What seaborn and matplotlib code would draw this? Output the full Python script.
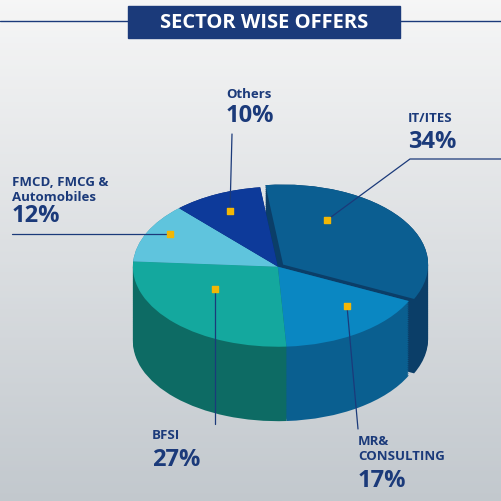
import numpy as np
import matplotlib.pyplot as plt
import seaborn as sns

sectors = ['IT/ITES', 'MR&\nCONSULTING', 'BFSI', 'FMCD, FMCG &\nAutomobiles', 'Others']
shares = [34, 17, 27, 12, 10]
top_colors = ['#0b5e91', '#0a87c2', '#14a89e', '#5fc4dd', '#0d3a9a']
side_colors = ['#0b3e68', '#0a5f90', '#0d6b64', '#3e8fa6', '#0a2a70']
explode = [0.045, 0, 0, 0, 0]

sns.set_style('white')
plt.rcParams['font.family'] = ['Open Sans', 'DejaVu Sans']
fig = plt.figure(figsize=(5.02, 5.02), dpi=100)

# background
bg = fig.add_axes([0, 0, 1, 1])
grad = np.linspace(0, 1, 256).reshape(-1, 1)
bg.imshow(grad, cmap=sns.light_palette('#9aa4ad', as_cmap=True), aspect='auto',
          extent=[0, 502, 502, 0], alpha=0.6)
bg.set_xlim(0, 502)
bg.set_ylim(502, 0)
bg.axis('off')

# pie
ax = fig.add_axes([0.207, 0.116, 0.693, 0.542])
depths = np.linspace(0.93, 0.0, 40)
for d in depths:
    ax.pie(shares, colors=side_colors, startangle=97, counterclock=False, explode=explode,
           center=(0, -d), radius=1, wedgeprops=dict(linewidth=0))
ax.pie(shares, colors=top_colors, startangle=97, counterclock=False, explode=explode,
       center=(0, 0), radius=1, wedgeprops=dict(linewidth=0))
ax.set_aspect('auto')
ax.set_xlim(-1.2, 1.2)
ax.set_ylim(-2.2, 1.2)
ax.axis('off')

# overlay for title and labels
ov = fig.add_axes([0, 0, 1, 1])
ov.set_xlim(0, 502)
ov.set_ylim(502, 0)
ov.axis('off')
navy = '#1b3a7a'
ov.plot([0, 130], [22, 22], color=navy, lw=1)
ov.plot([400, 502], [22, 22], color=navy, lw=1)
ov.add_patch(plt.Rectangle((128, 7), 272, 32, color=navy))
ov.text(264, 23, 'SECTOR WISE OFFERS', color='white', fontsize=14.5, fontweight='bold',
        ha='center', va='center')

labels = [
    # text x, name y, pct y, dot, line
    (408, 118, 142, (327, 221), [(327, 221), (410, 160), (502, 160)]),
    (358, 449, 481, (347, 307), [(347, 307), (358, 430)]),
    (152, 436, 460, (215, 290), [(215, 290), (215, 425)]),
    (12, 190, 216, (170, 235), [(12, 235), (170, 235)]),
    (226, 95, 116, (230, 212), [(230, 212), (232, 135)]),
]
for (name, pct, (tx, ny, py, dot, line)) in zip(sectors, shares, labels):
    xs, ys = zip(*line)
    ov.plot(xs, ys, color=navy, lw=0.9)
    ov.scatter([dot[0]], [dot[1]], marker='s', s=22, color='#f2b705', zorder=5)
    ov.text(tx, ny, name, color=navy, fontsize=9.5, fontweight='bold', va='center',
            linespacing=1.15)
    ov.text(tx, py, f'{pct}%', color=navy, fontsize=17, fontweight='bold', va='center')

fig.savefig('out.png', dpi=100)
